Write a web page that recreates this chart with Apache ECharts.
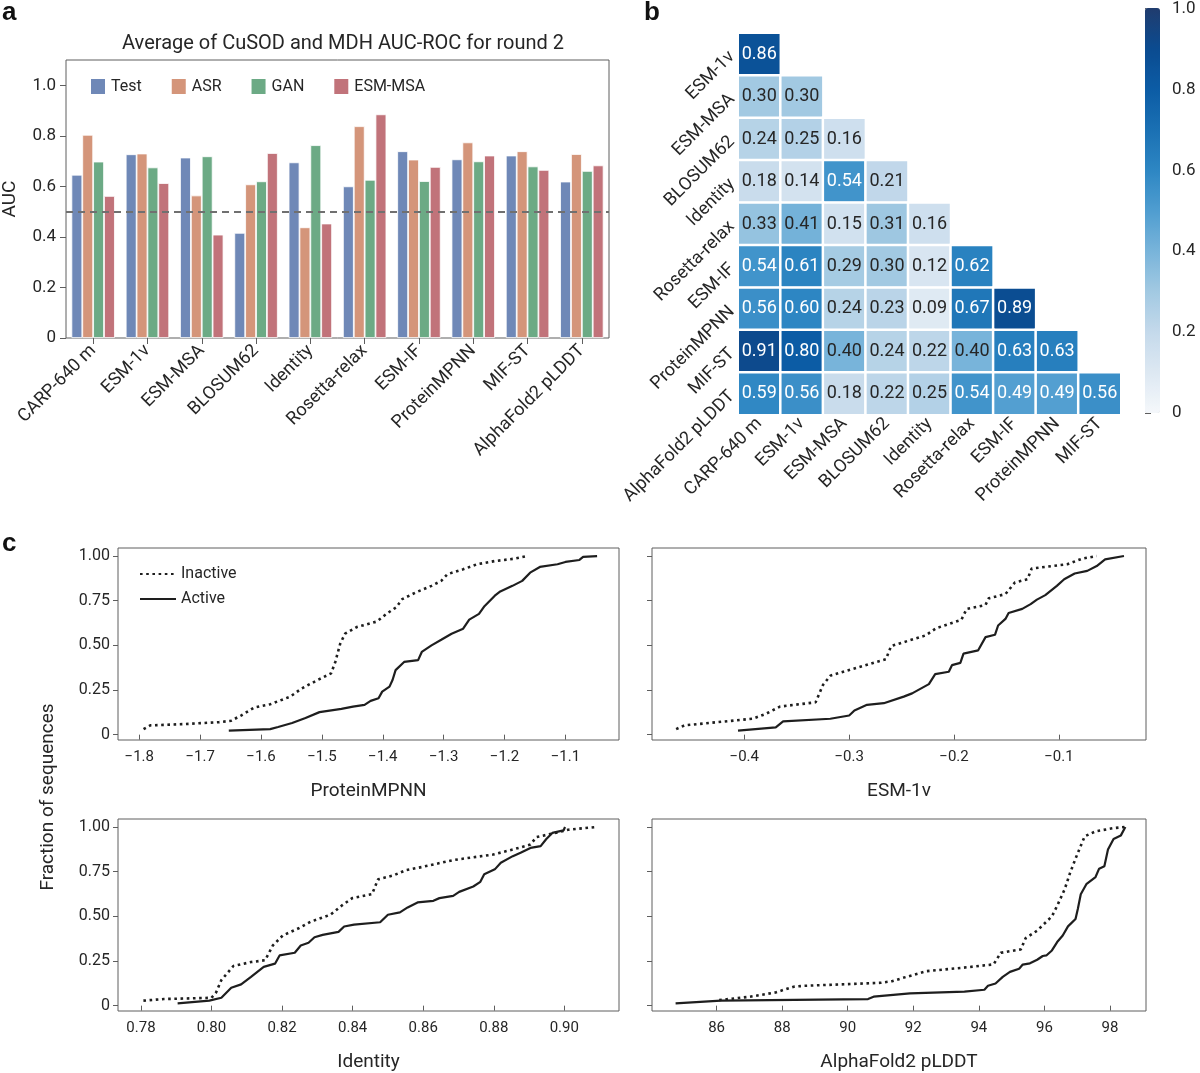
<!DOCTYPE html>
<html>
<head>
<meta charset="utf-8">
<script src="https://cdn.jsdelivr.net/npm/echarts@6.0.0/dist/echarts.min.js"></script>
<style>
html, body { margin: 0; padding: 0; background: #fff; }
#chart { width: 1200px; height: 1073px; }
</style>
</head>
<body>
<div id="chart"></div>
<script>
// ---- panel a : AUC bars ----
var categories = ['CARP-640 m', 'ESM-1v', 'ESM-MSA', 'BLOSUM62', 'Identity', 'Rosetta-relax', 'ESM-IF', 'ProteinMPNN', 'MIF-ST', 'AlphaFold2 pLDDT'];
var testAuc   = [0.646, 0.727, 0.714, 0.416, 0.695, 0.600, 0.739, 0.707, 0.722, 0.619];
var asrAuc    = [0.804, 0.730, 0.564, 0.608, 0.438, 0.838, 0.706, 0.774, 0.739, 0.728];
var ganAuc    = [0.698, 0.675, 0.719, 0.620, 0.763, 0.626, 0.621, 0.699, 0.679, 0.661];
var esmMsaAuc = [0.562, 0.613, 0.409, 0.732, 0.453, 0.885, 0.677, 0.722, 0.665, 0.683];
var aucTicks = [0, 0.2, 0.4, 0.6, 0.8, 1.0];
var chanceLevel = 0.5;

// ---- panel b : correlation triangle ----
var heatCols = ['CARP-640 m', 'ESM-1v', 'ESM-MSA', 'BLOSUM62', 'Identity', 'Rosetta-relax', 'ESM-IF', 'ProteinMPNN', 'MIF-ST'];
var heatRows = ['ESM-1v', 'ESM-MSA', 'BLOSUM62', 'Identity', 'Rosetta-relax', 'ESM-IF', 'ProteinMPNN', 'MIF-ST', 'AlphaFold2 pLDDT'];
var heatValues = [
  [0.86],
  [0.30, 0.30],
  [0.24, 0.25, 0.16],
  [0.18, 0.14, 0.54, 0.21],
  [0.33, 0.41, 0.15, 0.31, 0.16],
  [0.54, 0.61, 0.29, 0.30, 0.12, 0.62],
  [0.56, 0.60, 0.24, 0.23, 0.09, 0.67, 0.89],
  [0.91, 0.80, 0.40, 0.24, 0.22, 0.40, 0.63, 0.63],
  [0.59, 0.56, 0.18, 0.22, 0.25, 0.54, 0.49, 0.49, 0.56]
];
var cbarTicks = [0, 0.2, 0.4, 0.6, 0.8, 1.0];

// ---- panel c : ECDFs, [score, fraction] ----
var fracTicks = [0, 0.25, 0.5, 0.75, 1];
var mpnnTicks = [-1.8, -1.7, -1.6, -1.5, -1.4, -1.3, -1.2, -1.1];
var mpnnInactive = [[-1.793,0.031],[-1.782,0.052],[-1.727,0.059],[-1.669,0.070],[-1.649,0.078],[-1.633,0.107],[-1.611,0.152],[-1.585,0.170],[-1.552,0.213],[-1.533,0.259],[-1.507,0.306],[-1.485,0.343],[-1.478,0.407],[-1.470,0.509],[-1.462,0.565],[-1.443,0.602],[-1.410,0.633],[-1.394,0.676],[-1.378,0.713],[-1.368,0.759],[-1.346,0.796],[-1.320,0.833],[-1.304,0.861],[-1.294,0.898],[-1.268,0.926],[-1.245,0.954],[-1.216,0.972],[-1.184,0.985],[-1.163,1.0]];
var mpnnActive = [[-1.653,0.022],[-1.585,0.031],[-1.572,0.043],[-1.549,0.065],[-1.527,0.093],[-1.504,0.126],[-1.468,0.144],[-1.449,0.157],[-1.430,0.167],[-1.420,0.189],[-1.407,0.204],[-1.401,0.241],[-1.389,0.269],[-1.384,0.306],[-1.379,0.361],[-1.365,0.407],[-1.342,0.417],[-1.336,0.463],[-1.320,0.500],[-1.304,0.531],[-1.287,0.565],[-1.268,0.593],[-1.258,0.644],[-1.242,0.676],[-1.233,0.719],[-1.216,0.778],[-1.207,0.802],[-1.187,0.833],[-1.171,0.861],[-1.158,0.907],[-1.142,0.939],[-1.113,0.954],[-1.100,0.967],[-1.077,0.978],[-1.071,0.995],[-1.048,1.0]];
var esm1vTicks = [-0.4, -0.3, -0.2, -0.1];
var esm1vInactive = [[-0.465,0.031],[-0.457,0.052],[-0.392,0.089],[-0.380,0.115],[-0.366,0.157],[-0.332,0.181],[-0.325,0.278],[-0.318,0.330],[-0.297,0.367],[-0.276,0.404],[-0.265,0.422],[-0.260,0.496],[-0.227,0.556],[-0.217,0.596],[-0.193,0.643],[-0.188,0.704],[-0.170,0.726],[-0.167,0.763],[-0.151,0.787],[-0.142,0.852],[-0.130,0.870],[-0.126,0.930],[-0.092,0.954],[-0.078,0.985],[-0.064,1.0]];
var esm1vActive = [[-0.406,0.022],[-0.370,0.041],[-0.363,0.074],[-0.318,0.089],[-0.300,0.107],[-0.295,0.135],[-0.283,0.167],[-0.267,0.176],[-0.248,0.213],[-0.240,0.231],[-0.224,0.283],[-0.218,0.339],[-0.205,0.352],[-0.202,0.389],[-0.194,0.402],[-0.191,0.454],[-0.177,0.472],[-0.170,0.546],[-0.161,0.559],[-0.158,0.611],[-0.151,0.648],[-0.148,0.681],[-0.135,0.704],[-0.127,0.731],[-0.121,0.756],[-0.113,0.781],[-0.102,0.833],[-0.095,0.870],[-0.085,0.902],[-0.073,0.917],[-0.064,0.944],[-0.056,0.981],[-0.038,1.0]];
var identTicks = [0.78, 0.80, 0.82, 0.84, 0.86, 0.88, 0.90];
var identInactive = [[0.7807,0.028],[0.7865,0.037],[0.800,0.044],[0.8013,0.074],[0.8028,0.143],[0.8062,0.222],[0.8112,0.244],[0.8152,0.254],[0.8174,0.337],[0.8202,0.393],[0.8247,0.433],[0.8281,0.470],[0.8337,0.509],[0.8371,0.563],[0.8399,0.602],[0.8455,0.624],[0.8472,0.707],[0.8517,0.730],[0.8551,0.759],[0.8596,0.776],[0.8685,0.815],[0.8798,0.846],[0.8854,0.874],[0.8904,0.902],[0.8921,0.944],[0.8966,0.963],[0.9011,0.985],[0.9090,1.0]];
var identActive = [[0.7904,0.013],[0.7994,0.028],[0.8028,0.044],[0.8056,0.100],[0.8084,0.119],[0.8112,0.161],[0.8148,0.217],[0.8180,0.235],[0.8193,0.281],[0.8236,0.296],[0.8253,0.337],[0.8275,0.352],[0.8292,0.383],[0.8315,0.396],[0.8360,0.413],[0.8376,0.443],[0.8404,0.454],[0.8478,0.467],[0.8500,0.509],[0.8534,0.522],[0.8556,0.550],[0.8584,0.578],[0.8629,0.587],[0.8646,0.602],[0.8685,0.615],[0.8702,0.637],[0.8742,0.667],[0.8762,0.693],[0.8773,0.735],[0.8803,0.763],[0.8820,0.800],[0.8854,0.837],[0.8876,0.856],[0.8904,0.883],[0.8933,0.893],[0.8949,0.933],[0.8966,0.967],[0.8998,0.981],[0.9002,1.0]];
var plddtTicks = [86, 88, 90, 92, 94, 96, 98];
var plddtInactive = [[86.08,0.031],[87.02,0.050],[87.80,0.074],[88.35,0.106],[88.68,0.111],[91.01,0.128],[91.35,0.137],[91.79,0.161],[92.40,0.193],[93.45,0.211],[94.45,0.231],[94.67,0.296],[95.28,0.315],[95.43,0.378],[95.78,0.420],[96.23,0.500],[96.39,0.559],[96.62,0.652],[96.78,0.741],[96.98,0.837],[97.23,0.948],[97.56,0.976],[98.11,0.994],[98.44,1.0]];
var plddtActive = [[84.75,0.013],[86.13,0.028],[90.62,0.037],[90.79,0.050],[91.90,0.069],[93.56,0.078],[94.17,0.089],[94.28,0.111],[94.51,0.124],[94.73,0.161],[94.95,0.189],[95.23,0.207],[95.34,0.230],[95.56,0.237],[95.78,0.257],[95.95,0.278],[96.06,0.281],[96.23,0.309],[96.39,0.356],[96.56,0.393],[96.72,0.444],[96.95,0.485],[97.02,0.541],[97.11,0.624],[97.28,0.680],[97.56,0.720],[97.67,0.767],[97.83,0.781],[97.94,0.874],[98.11,0.933],[98.33,0.952],[98.47,1.0]];

var FONT = 'Roboto';
var TXT = '#262626';
var AXC = '#5e5e5e';
// colour ramp sampled from the colour bar, 0 -> 1 in steps of 0.1
var blues = ['#f5f8fb', '#dde8f2', '#c4d9eb', '#a2c9e2', '#78b4da', '#4f9dd0', '#2d86c3', '#1a70b3', '#0c5ca5', '#0b4b90', '#203c6e'];

var chart = echarts.init(document.getElementById('chart'));

function minus(s) { return s.replace('-', '\u2212'); }

// value axis for the ecdf panels
function ecdfX(grid, min, max, ticks, dec, name) {
  return {
    type: 'value', gridIndex: grid, min: min, max: max,
    name: name, nameLocation: 'middle', nameGap: 42,
    nameTextStyle: { fontFamily: FONT, fontSize: 19, color: TXT },
    splitLine: { show: false },
    axisLine: { show: false },
    axisTick: { show: true, length: 5, lineStyle: { color: AXC }, customValues: ticks },
    axisLabel: { fontFamily: FONT, fontSize: 15, color: TXT, margin: 10, customValues: ticks,
      formatter: function (v) { return minus(v.toFixed(dec)); } }
  };
}
function ecdfY(grid, labels) {
  return {
    type: 'value', gridIndex: grid, min: -0.03, max: 1.045,
    splitLine: { show: false },
    axisLine: { show: false },
    axisTick: { show: true, length: 5, lineStyle: { color: AXC }, customValues: fracTicks },
    axisLabel: { show: labels, fontFamily: FONT, fontSize: 16, color: TXT, margin: 8, customValues: fracTicks,
      formatter: function (v) { return v === 0 ? '0' : v.toFixed(2); } }
  };
}
function ecdfLine(name, data, grid) {
  var dotted = name === 'Inactive';
  return {
    type: 'line', name: name, data: data, xAxisIndex: grid, yAxisIndex: grid,
    symbol: 'none', silent: true,
    lineStyle: { color: '#1e1e1e', width: dotted ? 2.6 : 2.2, type: dotted ? [2.6, 3.6] : 'solid' },
    itemStyle: { color: '#1e1e1e' }
  };
}
function barSeries(name, data, color) {
  return {
    type: 'bar', name: name, data: data, xAxisIndex: 0, yAxisIndex: 0,
    barGap: '0%', barCategoryGap: '20%',
    itemStyle: { color: color, borderColor: '#fff', borderWidth: 0.8 }
  };
}

var heatData = [];
heatValues.forEach(function (row, r) {
  row.forEach(function (v, c) {
    heatData.push({ value: [c, r, v], label: { color: v > 0.45 ? '#ffffff' : TXT } });
  });
});

var boxStyle = { show: true, borderColor: AXC, borderWidth: 1, backgroundColor: 'transparent' };

var option = {
  backgroundColor: '#fff',
  animation: false,
  textStyle: { fontFamily: FONT },
  title: {
    text: 'Average of CuSOD and MDH AUC-ROC for round 2',
    left: 338, top: 29, textAlign: 'center',
    textStyle: { fontFamily: FONT, fontSize: 20, fontWeight: 'normal', color: TXT }
  },
  graphic: [
    { type: 'text', left: 2, top: 0, style: { text: 'a', font: 'bold 26px Arial', fill: '#111' } },
    { type: 'text', left: 644, top: 0, style: { text: 'b', font: 'bold 26px Arial', fill: '#111' } },
    { type: 'text', left: 2, top: 531, style: { text: 'c', font: 'bold 26px Arial', fill: '#111' } },
    { type: 'text', x: 48, y: 797, rotation: Math.PI / 2,
      style: { text: 'Fraction of sequences', font: '19px Roboto', fill: TXT, align: 'center', verticalAlign: 'middle' } }
  ],
  legend: [
    {
      data: ['Test', 'ASR', 'GAN', 'ESM-MSA'], left: 84, top: 72,
      icon: 'rect', itemWidth: 16, itemHeight: 17, itemGap: 28, selectedMode: false,
      textStyle: { fontFamily: FONT, fontSize: 16, color: TXT }
    },
    {
      data: ['Inactive', 'Active'], left: 134, top: 561, orient: 'vertical',
      itemWidth: 36, itemHeight: 14, itemGap: 9, selectedMode: false,
      itemStyle: { opacity: 0 },
      textStyle: { fontFamily: FONT, fontSize: 16, color: TXT }
    }
  ],
  visualMap: {
    type: 'continuous', min: 0, max: 1, seriesIndex: 4,
    left: 1145, top: 8, itemWidth: 15, itemHeight: 405, padding: 0,
    calculable: false, hoverLink: false, text: ['', ''], showLabel: false,
    inRange: { color: blues }
  },
  grid: [
    Object.assign({ left: 66, top: 60, width: 543, height: 278 }, boxStyle),
    { left: 738, top: 33, width: 383, height: 382 },
    { left: 1145, top: 8, width: 15, height: 405 },
    Object.assign({ left: 118, top: 548, width: 501, height: 192 }, boxStyle),
    Object.assign({ left: 652, top: 548, width: 494, height: 192 }, boxStyle),
    Object.assign({ left: 118, top: 819, width: 501, height: 192 }, boxStyle),
    Object.assign({ left: 652, top: 819, width: 494, height: 192 }, boxStyle)
  ],
  xAxis: [
    {
      type: 'category', gridIndex: 0, data: categories,
      axisLine: { show: false },
      axisTick: { show: true, alignWithLabel: true, length: 6, lineStyle: { color: AXC } },
      axisLabel: { interval: 0, rotate: 45, fontFamily: FONT, fontSize: 18, color: TXT, margin: 10 }
    },
    {
      type: 'category', gridIndex: 1, data: heatCols,
      axisLine: { show: false }, axisTick: { show: false },
      axisLabel: { interval: 0, rotate: 45, fontFamily: FONT, fontSize: 18, color: TXT, margin: 6 }
    },
    { type: 'value', gridIndex: 2, show: false, min: 0, max: 1 },
    ecdfX(3, -1.835, -1.012, mpnnTicks, 1, 'ProteinMPNN'),
    ecdfX(4, -0.488, -0.017, esm1vTicks, 1, 'ESM-1v'),
    ecdfX(5, 0.7735, 0.9155, identTicks, 2, 'Identity'),
    ecdfX(6, 84.03, 99.1, plddtTicks, 0, 'AlphaFold2 pLDDT')
  ],
  yAxis: [
    {
      type: 'value', gridIndex: 0, min: 0, max: 1.1,
      name: 'AUC', nameLocation: 'middle', nameGap: 46, nameRotate: 90,
      nameTextStyle: { fontFamily: FONT, fontSize: 19, color: TXT },
      splitLine: { show: false }, axisLine: { show: false },
      axisTick: { show: true, length: 6, lineStyle: { color: AXC }, customValues: aucTicks },
      axisLabel: { fontFamily: FONT, fontSize: 17, color: TXT, margin: 10, customValues: aucTicks,
        formatter: function (v) { return v === 0 ? '0' : v.toFixed(1); } }
    },
    {
      type: 'category', gridIndex: 1, data: heatRows, inverse: true,
      axisLine: { show: false }, axisTick: { show: false },
      axisLabel: { interval: 0, rotate: 45, fontFamily: FONT, fontSize: 18, color: TXT, margin: 6 }
    },
    {
      type: 'value', gridIndex: 2, position: 'right', min: 0, max: 1,
      splitLine: { show: false }, axisLine: { show: false },
      axisTick: { show: true, length: 6, lineStyle: { color: AXC }, customValues: cbarTicks },
      axisLabel: { fontFamily: FONT, fontSize: 17, color: TXT, margin: 12, customValues: cbarTicks,
        formatter: function (v) { return v === 0 ? '0' : v.toFixed(1); } }
    },
    ecdfY(3, true),
    ecdfY(4, false),
    ecdfY(5, true),
    ecdfY(6, false)
  ],
  series: [
    Object.assign(barSeries('Test', testAuc, '#6f88b7'), {
      markLine: {
        silent: true, symbol: 'none', label: { show: false },
        lineStyle: { color: '#707070', width: 1.8, type: [7, 5] },
        data: [{ yAxis: chanceLevel }]
      }
    }),
    barSeries('ASR', asrAuc, '#d4957a'),
    barSeries('GAN', ganAuc, '#6caa85'),
    barSeries('ESM-MSA', esmMsaAuc, '#c1737a'),
    {
      type: 'heatmap', xAxisIndex: 1, yAxisIndex: 1, data: heatData, silent: true,
      itemStyle: { borderColor: '#fff', borderWidth: 2.5 },
      label: { show: true, fontFamily: FONT, fontSize: 18,
        formatter: function (p) { return p.value[2].toFixed(2); } }
    },
    ecdfLine('Inactive', mpnnInactive, 3),
    ecdfLine('Active', mpnnActive, 3),
    ecdfLine('Inactive', esm1vInactive, 4),
    ecdfLine('Active', esm1vActive, 4),
    ecdfLine('Inactive', identInactive, 5),
    ecdfLine('Active', identActive, 5),
    ecdfLine('Inactive', plddtInactive, 6),
    ecdfLine('Active', plddtActive, 6)
  ]
};

chart.setOption(option);
</script>
</body>
</html>
